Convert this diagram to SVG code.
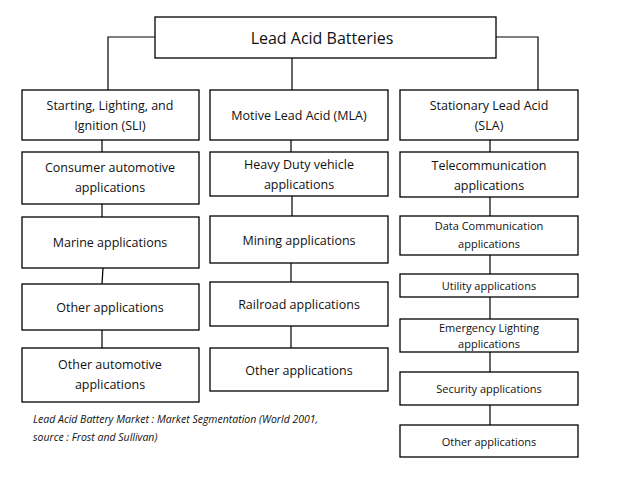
<svg xmlns="http://www.w3.org/2000/svg" width="638" height="479" viewBox="0 0 638 479">
<style>
rect{fill:#fff;stroke:#000;stroke-width:1.3}
.c line,.c polyline{stroke:#000;stroke-width:1.2;fill:none}
text{font-family:"Open Sans","Liberation Sans",Arial,sans-serif;font-size:12.5px;text-anchor:middle;fill:#111}
.s{font-size:11px}
.t{font-size:16px}
.cap{font-size:10.5px;font-style:italic;text-anchor:start}
</style>
<rect width="638" height="479" style="fill:#fff;stroke:none"/>
<g class="c">
<polyline points="155,37 108,37 108,90"/>
<polyline points="496,37 538,37 538,90"/>
<line x1="292" y1="58" x2="292" y2="90"/>
<line x1="102" y1="140" x2="102" y2="152"/><line x1="102" y1="204" x2="102" y2="217"/><line x1="103" y1="268" x2="102" y2="284"/><line x1="102" y1="330" x2="102" y2="348"/>
<line x1="291" y1="140" x2="291" y2="152"/><line x1="292" y1="196" x2="292" y2="216"/><line x1="291" y1="263" x2="291" y2="282"/><line x1="291" y1="326" x2="291" y2="348"/>
<line x1="490" y1="140" x2="490" y2="152"/><line x1="490" y1="197" x2="490" y2="216"/><line x1="490" y1="255" x2="490" y2="274"/><line x1="490" y1="297" x2="490" y2="319"/><line x1="490" y1="352" x2="490" y2="372"/><line x1="490" y1="405" x2="490" y2="425"/>
</g>
<g id="root"><rect x="155" y="17" width="341" height="41"/><text class="t" x="322" y="44">Lead Acid Batteries</text></g>
<g id="sli"><rect x="22" y="90" width="177" height="50"/><text x="110" y="110">Starting, Lighting, and</text><text x="110" y="130">Ignition (SLI)</text></g>
<g id="mla"><rect x="210" y="90" width="178" height="50"/><text x="299" y="120">Motive Lead Acid (MLA)</text></g>
<g id="sla"><rect x="400" y="90" width="178" height="50"/><text x="489" y="110">Stationary Lead Acid</text><text x="489" y="130">(SLA)</text></g>
<g id="consumer"><rect x="22" y="152" width="177" height="52"/><text x="110" y="172">Consumer automotive</text><text x="110" y="192">applications</text></g>
<g id="marine"><rect x="22" y="217" width="177" height="51"/><text x="110" y="247">Marine applications</text></g>
<g id="other1"><rect x="22" y="284" width="177" height="46"/><text x="110" y="312">Other applications</text></g>
<g id="otherauto"><rect x="22" y="348" width="177" height="54"/><text x="110" y="369">Other automotive</text><text x="110" y="389">applications</text></g>
<g id="heavy"><rect x="210" y="152" width="178" height="44"/><text x="299" y="169">Heavy Duty vehicle</text><text x="299" y="189">applications</text></g>
<g id="mining"><rect x="210" y="216" width="178" height="47"/><text x="299" y="245">Mining applications</text></g>
<g id="railroad"><rect x="210" y="282" width="178" height="44"/><text x="299" y="309">Railroad applications</text></g>
<g id="other2"><rect x="210" y="348" width="178" height="43"/><text x="299" y="375">Other applications</text></g>
<g id="telecom"><rect x="400" y="152" width="178" height="45"/><text x="489" y="170">Telecommunication</text><text x="489" y="190">applications</text></g>
<g id="datacomm"><rect x="400" y="216" width="178" height="39"/><text class="s" x="489" y="230">Data Communication</text><text class="s" x="489" y="248">applications</text></g>
<g id="utility"><rect x="400" y="274" width="178" height="23"/><text class="s" x="489" y="290">Utility applications</text></g>
<g id="emergency"><rect x="400" y="319" width="178" height="33"/><text class="s" x="489" y="332">Emergency Lighting</text><text class="s" x="489" y="348">applications</text></g>
<g id="security"><rect x="400" y="372" width="178" height="33"/><text class="s" x="489" y="393">Security applications</text></g>
<g id="other3"><rect x="400" y="425" width="178" height="32"/><text class="s" x="489" y="446">Other applications</text></g>
<text class="cap" x="33" y="423">Lead Acid Battery Market : Market Segmentation (World 2001,</text>
<text class="cap" x="33" y="441">source : Frost and Sullivan)</text>
</svg>
